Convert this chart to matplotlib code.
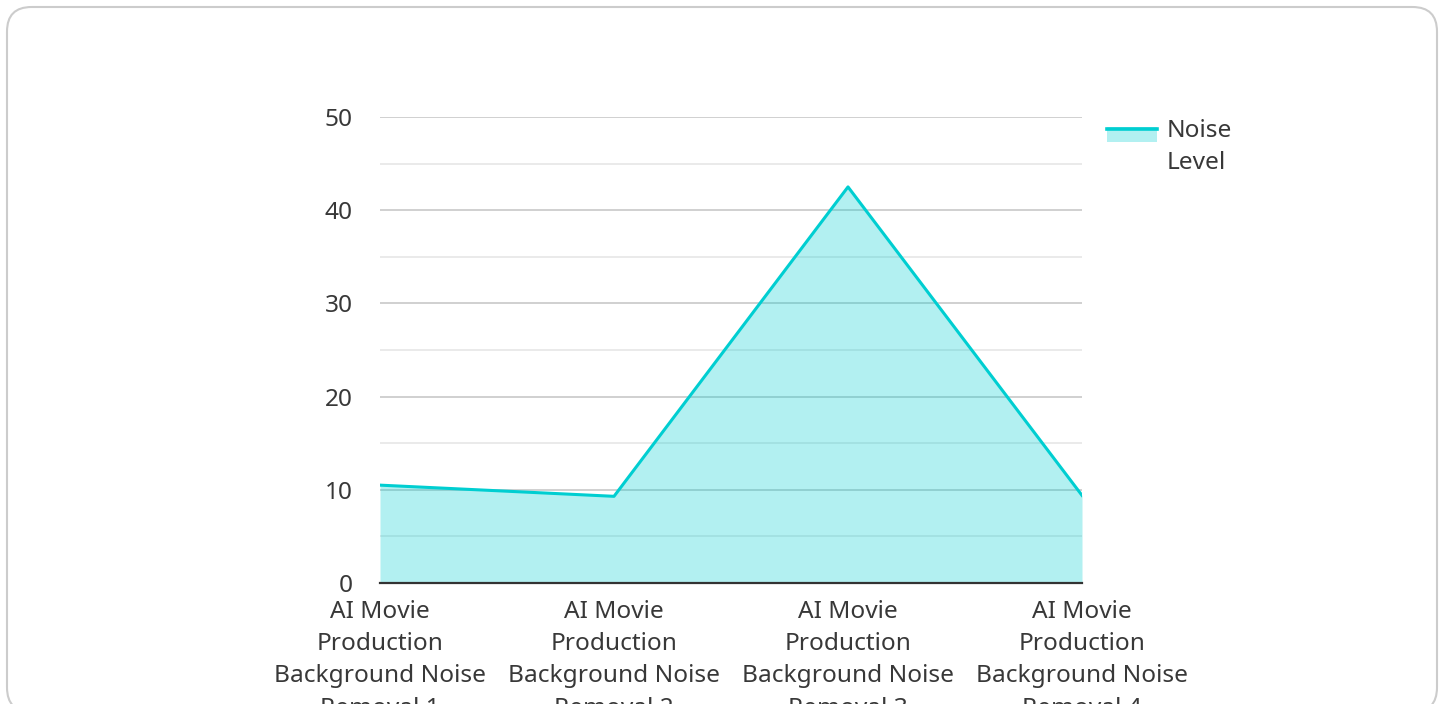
import matplotlib
matplotlib.use("Agg")
from matplotlib import pyplot as plt
from matplotlib.patches import FancyBboxPatch, Rectangle
from matplotlib.lines import Line2D

plt.rcParams['font.family'] = ['Noto Sans', 'DejaVu Sans']

# data
categories = ["AI Movie\nProduction\nBackground Noise\nRemoval 1",
              "AI Movie\nProduction\nBackground Noise\nRemoval 2",
              "AI Movie\nProduction\nBackground Noise\nRemoval 3",
              "AI Movie\nProduction\nBackground Noise\nRemoval 4"]
noise_level = [10.5, 9.3, 42.5, 9.4]
series_name = "Noise\nLevel"

line_color = "#00CED1"
text_color = "#383838"

fig = plt.figure(figsize=(14.44, 7.04), dpi=100)
W, H = 1444, 704

# card background with rounded border
card = FancyBboxPatch((7 / W, -8 / H), 1430 / W, 705 / H,
                      boxstyle="round,pad=0,rounding_size=0.017",
                      transform=fig.transFigure, facecolor="white",
                      edgecolor="#cccccc", linewidth=1.5, mutation_aspect=W / H,
                      zorder=-5)
fig.patches.append(card)

ax = fig.add_axes([380 / W, 1 - 583 / H, 702 / W, 466 / H])
ax.set_facecolor("none")

x = range(len(categories))
ax.fill_between(x, 0, noise_level, color=line_color, alpha=0.3, linewidth=0, zorder=2)
ax.plot(x, noise_level, color=line_color, linewidth=2.2, zorder=3)

ax.set_xlim(0, len(categories) - 1)
ax.set_ylim(0, 50)
ax.set_yticks(range(0, 51, 10))
ax.set_yticks(range(5, 50, 10), minor=True)
ax.set_xticks(list(x))
ax.set_xticklabels(categories, linespacing=1.46)

ax.grid(axis="y", which="major", color="#c8c8c8", linewidth=1.2, zorder=1)
ax.grid(axis="y", which="minor", color="#e6e6e6", linewidth=1.2, zorder=1)
ax.set_axisbelow(True)

for side in ["top", "right", "left"]:
    ax.spines[side].set_visible(False)
ax.spines["bottom"].set_color("#333333")
ax.spines["bottom"].set_linewidth(1.6)
ax.spines["bottom"].set_zorder(4)

ax.tick_params(axis="both", which="both", length=0, labelsize=17.6, labelcolor=text_color)
ax.tick_params(axis="y", pad=19.5)
ax.tick_params(axis="x", pad=12)

# legend drawn at the right of the plot
fig.patches.append(Rectangle((1107 / W, 1 - 142 / H), 50 / W, 15 / H,
                             transform=fig.transFigure, facecolor=line_color,
                             alpha=0.3, linewidth=0))
fig.lines.append(Line2D([1107 / W, 1157 / W], [1 - 129 / H, 1 - 129 / H],
                        transform=fig.transFigure, color=line_color, linewidth=2.6))
fig.text(1167 / W, 1 - 119 / H, series_name, fontsize=17.6, color=text_color,
         va="top", ha="left", linespacing=1.46)

fig.savefig("out.png", dpi=100)
